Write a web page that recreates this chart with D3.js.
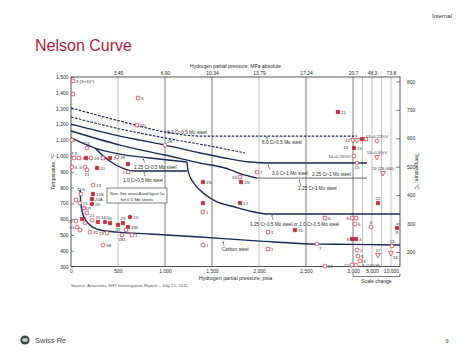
<!DOCTYPE html>
<html><head><meta charset="utf-8">
<script src="https://cdn.jsdelivr.net/npm/d3@7"></script>
<style>
html,body{margin:0;padding:0;background:#fff;}
svg{display:block;font-family:"Liberation Sans",Arial,sans-serif;}
</style></head><body>
<svg id="c" width="474" height="355"></svg>
<script>
// ---------- DATA ----------
const psiTicks = [0,500,1000,1500,2000,2500,3000,5000,10000];
const psiTickLabels = ["0","500","1,000","1,500","2,000","2,500","3,000","5,000","10,000"];
const mpaTickPsi = [500,1000,1500,2000,2500,3000,5000,10000];
const mpaTickLabels = ["3.45","6.90","10.34","13.79","17.24","20.7","48.3","73.8"];
const tempTicksF = [300,400,500,600,700,800,900,1000,1100,1200,1300,1400,1500];
const tempTicksC = [200,300,400,500,600,700,800];
const gridPsi = [500,1000,1500,2000,2500,3000,4000,5000,7500,10000];
const gridDarkPsi = [1000,1500,2500,3000];

// curves: [psi, °F]
const crDashA = [[0,1304],[521,1221],[1000,1152],[1372,1126],[3421,1126]];
const crDashB = [[0,1247],[521,1171],[1000,1114],[1479,1063],[1851,1019]];
const cr3Mo1 = [[0,1202],[521,1126],[1000,1069],[1372,1019],[1638,987],[1904,962],[2117,955],[4474,955]];
const cr225Mo1 = [[0,1158],[521,1069],[1000,1006],[1372,955],[1638,924],[1851,879],[1979,860]];
const cr225Flat = [[1979,860],[4474,860]];
const cr125Mo05 = [[0,1114],[255,1050],[521,1012],[840,987],[1234,962]];
const cr1Mo05 = [[255,1050],[394,974],[574,917],[681,905],[1234,905]];
const crShared = [[1234,962],[1245,905],[1298,835],[1372,784],[1532,715],[1745,677],[1904,651],[2117,632],[12368,632]];
const carbonSteel = [[96,784],[106,689],[138,613],[202,563],[309,531],[489,518],[840,506],[1372,487],[2011,461],[2617,442],[3000,440],[12368,436]];

// curve labels: [psi, °F, text], arrows [[psi,°F],[psi,°F]]
const curveLabels = [
  [1021,1139,"6.0 Cr-0.5 Mo steel"],
  [2032,1076,"6.0 Cr-0.5 Mo steel"],
  [2138,879,"3.0 Cr-1 Mo steel"],
  [2564,873,"2.25 Cr-1 Mo steel"],
  [2415,784,"2.25 Cr-1 Mo steel"],
  [670,917,"1.25 Cr-0.5 Mo steel"],
  [553,835,"1.0 Cr-0.5 Mo steel"],
  [1904,556,"1.25 Cr-0.5 Mo steel or 1.0 Cr-0.5 Mo steel"],
  [1606,398,"Carbon steel"]
];
const arrows = [
  [[2085,1095],[2085,1122]],
  [[2117,911],[2096,945]],
  [[2447,809],[2426,850]],
  [[787,955],[766,982]],
  [[787,873],[777,897]],
  [[2149,594],[2138,624]],
  [[1628,430],[1617,458]]
];
const noteBox = [[383,797],[1021,702]];
const noteLines = [[702,750,"Note: See annex A and figure 1a"],[702,715,"for 0.5 Mo steels"]];

// experience points: p = psi, t = °F
const points = [
 {p:21,t:1475,k:'os',l:'3 (3×10⁴)',s:'r'},
 {p:21,t:1392,k:'os',l:'',s:'r'},
 {p:713,t:1367,k:'os',l:'3',s:'r'},
 {p:702,t:1196,k:'os',l:'6D',s:'r'},
 {p:11,t:1101,k:'os',l:'',s:'r'},
 {p:1000,t:1069,k:'oc',l:'2K',s:'tr'},
 {p:170,t:1050,k:'oc',l:'23',s:'t'},
 {p:32,t:987,k:'oc',l:'7.3',s:'t'},
 {p:85,t:987,k:'os',l:'7',s:'r'},
 {p:160,t:987,k:'fs',l:'',s:'r'},
 {p:213,t:987,k:'oc',l:'20',s:'r'},
 {p:340,t:987,k:'os',l:'1',s:'r'},
 {p:415,t:987,k:'fs',l:'1',s:'r'},
 {p:489,t:993,k:'oc',l:'1K',s:'r'},
 {p:606,t:949,k:'fs',l:'',s:'r'},
 {p:606,t:898,k:'os',l:'1',s:'l'},
 {p:11,t:930,k:'oc',l:'6',s:'r'},
 {p:149,t:930,k:'oc',l:'5',s:'l'},
 {p:170,t:911,k:'oc',l:'21',s:'b'},
 {p:277,t:924,k:'fs',l:'20',s:'r'},
 {p:234,t:816,k:'oc',l:'19',s:'r'},
 {p:106,t:759,k:'oc',l:'11G',s:'t'},
 {p:234,t:759,k:'fs',l:'12S',s:'r'},
 {p:223,t:727,k:'fs',l:'20A',s:'r'},
 {p:53,t:721,k:'os',l:'',s:'r'},
 {p:96,t:702,k:'oc',l:'21',s:'r'},
 {p:223,t:696,k:'fc',l:'26',s:'r'},
 {p:138,t:670,k:'oc',l:'',s:'r'},
 {p:170,t:639,k:'oc',l:'21P',s:'t'},
 {p:53,t:588,k:'oc',l:'21',s:'l'},
 {p:117,t:601,k:'fs',l:'',s:'r'},
 {p:64,t:550,k:'oc',l:'10',s:'l'},
 {p:149,t:575,k:'oc',l:'',s:'r'},
 {p:223,t:594,k:'oc',l:'21',s:'t'},
 {p:287,t:582,k:'fs',l:'25',s:'t'},
 {p:362,t:582,k:'fc',l:'16C',s:'t'},
 {p:415,t:575,k:'fs',l:'11',s:'t'},
 {p:500,t:563,k:'fs',l:'27',s:'b'},
 {p:553,t:575,k:'fs',l:'23',s:'t'},
 {p:628,t:613,k:'fc',l:'1D',s:'r'},
 {p:606,t:550,k:'fs',l:'335',s:'r'},
 {p:585,t:531,k:'oc',l:'',s:'r'},
 {p:649,t:499,k:'oc',l:'1',s:'r'},
 {p:543,t:499,k:'oc',l:'181',s:'b'},
 {p:383,t:512,k:'oc',l:'23',s:'l'},
 {p:202,t:518,k:'oc',l:'32',s:'r'},
 {p:96,t:531,k:'oc',l:'',s:'r'},
 {p:340,t:436,k:'oc',l:'1E',s:'r'},
 {p:1404,t:835,k:'fs',l:'1N',s:'r'},
 {p:1404,t:702,k:'fs',l:'',s:'r'},
 {p:1404,t:645,k:'os',l:'1',s:'r'},
 {p:1404,t:436,k:'oc',l:'1',s:'r'},
 {p:2096,t:411,k:'os',l:'1',s:'r'},
 {p:2096,t:518,k:'os',l:'1',s:'r'},
 {p:2383,t:531,k:'fs',l:'15',s:'r'},
 {p:1798,t:702,k:'fs',l:'1J',s:'r'},
 {p:1798,t:867,k:'os',l:'16',s:'l'},
 {p:1809,t:835,k:'fs',l:'1N',s:'r'},
 {p:1979,t:898,k:'os',l:'7',s:'r'},
 {p:2617,t:442,k:'oc',l:'7',s:'br'},
 {p:2702,t:303,k:'oc',l:'17',s:'r'},
 {p:2702,t:607,k:'os',l:'6',s:'r'},
 {p:2989,t:607,k:'os',l:'8',s:'l'},
 {p:3316,t:607,k:'os',l:'',s:'r'},
 {p:3211,t:569,k:'oc',l:'6',s:'r'},
 {p:4895,t:550,k:'oc',l:'5',s:'t'},
 {p:2989,t:474,k:'fs',l:'9',s:'l'},
 {p:3316,t:474,k:'fs',l:'4',s:'r'},
 {p:6579,t:702,k:'fs',l:'22',s:'t'},
 {p:7895,t:892,k:'ot',l:'24 (25,000)',s:'t'},
 {p:3421,t:955,k:'oc',l:'15',s:'b'},
 {p:3105,t:1000,k:'oc',l:'14+0.25%V',s:'l'},
 {p:3105,t:1050,k:'fc',l:'13',s:'r'},
 {p:2947,t:1057,k:'txt',l:'13',s:'l'},
 {p:3000,t:1101,k:'ot',l:'12',s:'l'},
 {p:3421,t:1101,k:'ot',l:'',s:'r'},
 {p:3947,t:1107,k:'fs',l:'',s:'r'},
 {p:4368,t:1107,k:'os',l:'',s:'r'},
 {p:6316,t:1095,k:'oc',l:'13+0.22%V',s:'t'},
 {p:6316,t:993,k:'ot',l:'13+0.5%V',s:'t'},
 {p:2840,t:1278,k:'fs',l:'21',s:'r'},
 {p:11579,t:544,k:'fs',l:'8',s:'b'},
 {p:10263,t:430,k:'oc',l:'13',s:'t'},
 {p:6579,t:373,k:'ot',l:'27',s:'t'},
 {p:10000,t:385,k:'ot',l:'16',s:'br'},
 {p:3421,t:404,k:'oc',l:'1',s:'r'},
 {p:3526,t:366,k:'oc',l:'9',s:'r'},
 {p:3737,t:335,k:'oc',l:'4',s:'r'},
 {p:2989,t:309,k:'oc',l:'12',s:'l'},
 {p:3316,t:309,k:'oc',l:'',s:'r'},
 {p:3947,t:309,k:'txt',l:'3 (240°F)',s:'r'}
];

// ---------- DRAW ----------
const svg = d3.select("#c");
const L = 71, T = 77, B = 266.5;
const xEnd = 12368;
const x = d3.scaleLinear().domain([0,3000,5000,10000]).range([L,353,372,391]);
const y = d3.scaleLinear().domain([300,1500]).range([B,T]);
const yC = d3.scaleLinear().domain([(300-32)/1.8,(1500-32)/1.8]).range([B,T]);
const ink = "#2a2a2a", navy = "#1c2757", red = "#d2283a";

// header / footer
svg.append("text").attr("x",452).attr("y",18).attr("text-anchor","end")
  .attr("font-size",6).attr("fill","#333").text("Internal");
svg.append("text").attr("x",35).attr("y",51).attr("font-size",16)
  .attr("fill","#a81d3f").text("Nelson Curve");
svg.append("circle").attr("cx",25).attr("cy",340).attr("r",4.6).attr("fill","#3b4447");
svg.append("rect").attr("x",22.4).attr("y",338.2).attr("width",5.2).attr("height",3.6)
  .attr("rx",1).attr("fill","#c9cfd1");
svg.append("text").attr("x",35).attr("y",343).attr("font-size",7.5).attr("fill","#4a4a4a").text("Swiss Re");
svg.append("text").attr("x",447).attr("y",342.5).attr("text-anchor","middle").attr("font-size",6).attr("fill","#444").text("9");

// grid
svg.append("g").selectAll("line").data(gridPsi).join("line")
  .attr("x1",d=>x(d)).attr("x2",d=>x(d)).attr("y1",T).attr("y2",B)
  .attr("stroke",d=>gridDarkPsi.includes(d)?"#5a5a5a":"#a8a8a8")
  .attr("stroke-width",d=>gridDarkPsi.includes(d)?0.8:0.7);

// frame
svg.append("rect").attr("x",L).attr("y",T).attr("width",x(xEnd)-L).attr("height",B-T)
  .attr("fill","none").attr("stroke",ink).attr("stroke-width",0.8);

function styleAxis(g){
  g.select(".domain").remove();
  g.selectAll("text").attr("font-size",5).attr("fill",ink).attr("font-family","Liberation Sans, Arial, sans-serif");
  g.selectAll(".tick line").attr("stroke",ink).attr("stroke-width",0.6);
}
svg.append("g").attr("transform",`translate(${L},0)`)
  .call(d3.axisLeft(y).tickValues(tempTicksF).tickFormat(d3.format(",")).tickSize(-3).tickPadding(2.5))
  .call(styleAxis);
svg.append("g").attr("transform",`translate(${x(xEnd)},0)`)
  .call(d3.axisRight(yC).tickValues(tempTicksC).tickSize(-4).tickPadding(7))
  .call(styleAxis);
svg.append("g").attr("transform",`translate(0,${B})`)
  .call(d3.axisBottom(x).tickValues(psiTicks).tickFormat((d,i)=>psiTickLabels[i]).tickSize(0).tickPadding(3))
  .call(styleAxis);
svg.append("g").attr("transform",`translate(0,${T})`)
  .call(d3.axisTop(x).tickValues(mpaTickPsi).tickFormat((d,i)=>mpaTickLabels[i]).tickSize(0).tickPadding(2.5))
  .call(styleAxis);

// axis titles
svg.append("text").attr("x",(L+x(xEnd))/2).attr("y",68).attr("text-anchor","middle")
  .attr("font-size",5).attr("fill",ink).text("Hydrogen partial pressure, MPa absolute");
svg.append("text").attr("x",(L+x(xEnd))/2).attr("y",280).attr("text-anchor","middle")
  .attr("font-size",5.3).attr("fill",ink).text("Hydrogen partial pressure, psia");
svg.append("text").attr("transform",`translate(55,${(T+B)/2}) rotate(-90)`).attr("text-anchor","middle")
  .attr("font-size",5).attr("fill",ink).text("Temperature, °F");
svg.append("text").attr("transform",`translate(415,${(T+B)/2}) rotate(90)`).attr("text-anchor","middle")
  .attr("font-size",5).attr("fill",ink).text("Temperature, °C");
svg.append("text").attr("x",L).attr("y",287).attr("font-size",4.4).attr("fill","#555")
  .text("Source: Anacortes SHT Investigation Report – July 21, 2011");

// scale change bracket
const bx1 = x(3000), bx2 = x(xEnd);
svg.append("path").attr("d",`M${bx1},273.5V276.5H${bx2}V273.5`).attr("fill","none")
  .attr("stroke",ink).attr("stroke-width",0.6);
svg.append("text").attr("x",(bx1+bx2)/2).attr("y",283).attr("text-anchor","middle")
  .attr("font-size",5).attr("fill",ink).text("Scale change");

// curves
const line = d3.line().x(d=>x(d[0])).y(d=>y(d[1])).curve(d3.curveMonotoneX);
const curveSet = [
  [crDashA,"dash",1.2],[crDashB,"dash",1.1],[cr3Mo1,"solid",1.4],[cr225Mo1,"solid",1.4],
  [cr225Flat,"solid",0.7],[cr125Mo05,"solid",1.4],[cr1Mo05,"solid",1.4],[crShared,"solid",1.4],[carbonSteel,"solid",1.4]
];
svg.append("g").selectAll("path").data(curveSet).join("path")
  .attr("d",d=>line(d[0])).attr("fill","none").attr("stroke",navy)
  .attr("stroke-width",d=>d[2]).attr("stroke-dasharray",d=>d[1]==="dash"?"2.6,1.4":null);

// curve labels & arrows
svg.append("defs").append("marker").attr("id","ah").attr("viewBox","0 0 6 6").attr("refX",5).attr("refY",3)
  .attr("markerWidth",3).attr("markerHeight",3).attr("orient","auto")
  .append("path").attr("d","M0,0L6,3L0,6Z").attr("fill",ink);
svg.append("g").selectAll("line").data(arrows).join("line")
  .attr("x1",d=>x(d[0][0])).attr("y1",d=>y(d[0][1])).attr("x2",d=>x(d[1][0])).attr("y2",d=>y(d[1][1]))
  .attr("stroke",ink).attr("stroke-width",0.5).attr("marker-end","url(#ah)");
svg.append("g").selectAll("text").data(curveLabels).join("text")
  .attr("x",d=>x(d[0])).attr("y",d=>y(d[1])).attr("font-size",4.7).attr("fill",ink).text(d=>d[2]);

// note box
const nbW = x(noteBox[1][0])-x(noteBox[0][0]);
svg.append("rect").attr("x",x(noteBox[0][0])).attr("y",y(noteBox[0][1]))
  .attr("width",nbW).attr("height",y(noteBox[1][1])-y(noteBox[0][1]))
  .attr("fill","#fff").attr("stroke",ink).attr("stroke-width",0.6);
svg.append("g").selectAll("text").data(noteLines).join("text")
  .attr("x",d=>x(d[0])).attr("y",d=>y(d[1])).attr("text-anchor","middle")
  .attr("font-size",4.4).attr("fill",ink)
  .attr("textLength",(d,i)=>i===0?nbW-6:null).attr("lengthAdjust","spacingAndGlyphs")
  .text(d=>d[2]);

// points
const symType = {oc:d3.symbolCircle, fc:d3.symbolCircle, os:d3.symbolSquare, fs:d3.symbolSquare, ot:d3.symbolTriangle};
const gp = svg.append("g");
points.filter(d=>d.k!=="txt").forEach(d=>{
  const px = x(d.p), py = y(d.t);
  const filled = d.k[0]==="f";
  gp.append("path").attr("d",d3.symbol(symType[d.k],d.k==="ot"?11:12)())
    .attr("transform",`translate(${px},${py})${d.k==="ot"?" rotate(180)":""}`)
    .attr("fill",filled?red:"#fff").attr("stroke",filled?"#6a1018":red).attr("stroke-width",filled?0.4:0.7);
});
const off = {r:[3,1.7,"start"], l:[-3,1.7,"end"], t:[0,-3,"middle"], b:[0,6,"middle"], tr:[2,-2.5,"start"], br:[2,5.5,"start"]};
gp.selectAll("text").data(points.filter(d=>d.l)).join("text")
  .attr("x",d=>x(d.p)+(d.k==="txt"?0:off[d.s][0]))
  .attr("y",d=>y(d.t)+(d.k==="txt"?1.7:off[d.s][1]))
  .attr("text-anchor",d=>d.k==="txt"?(d.s==="l"?"end":"start"):off[d.s][2])
  .attr("font-size",4.4).attr("fill","#333").text(d=>d.l);
</script>
</body></html>
